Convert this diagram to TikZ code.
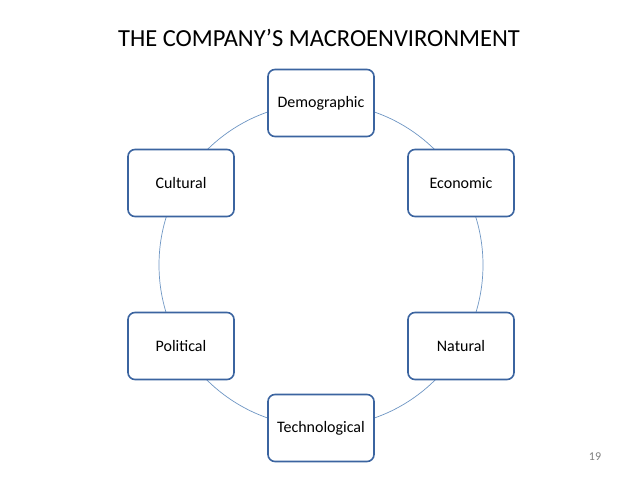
\documentclass[tikz,border=0pt]{standalone}
\usepackage{fontspec}
\setmainfont{Carlito}
\definecolor{boxc}{HTML}{3B64A0}
\definecolor{ringc}{HTML}{6E96C4}
\begin{document}
\begin{tikzpicture}[x=1pt,y=-1pt,
  box/.style={draw=boxc,line width=1.6pt,rounded corners=7pt,fill=white,minimum width=106pt,minimum height=67pt,font=\fontsize{16}{18}\selectfont}]
\useasboundingbox[fill=white] (0,0) rectangle (638,478);
\node (ring) [draw=ringc,line width=0.7pt,circle,minimum size=324pt,inner sep=0pt] at (321,265) {};
\node[box] (dem) at (321,103) {Demographic};
\node[box] (eco) at (461,183) {Economic};
\node[box] (nat) at (461,346) {Natural};
\node[box] (tec) at (321,428) {Technological};
\node[box] (pol) at (181,346) {Political};
\node[box] (cul) at (181,183) {Cultural};
\node (title) at (319,38) {\fontsize{24.5}{28}\selectfont THE COMPANY’S MACROENVIRONMENT};
\node (pg) at (595,457) {\fontsize{12}{14}\selectfont\color{gray}19};
\end{tikzpicture}
\end{document}
